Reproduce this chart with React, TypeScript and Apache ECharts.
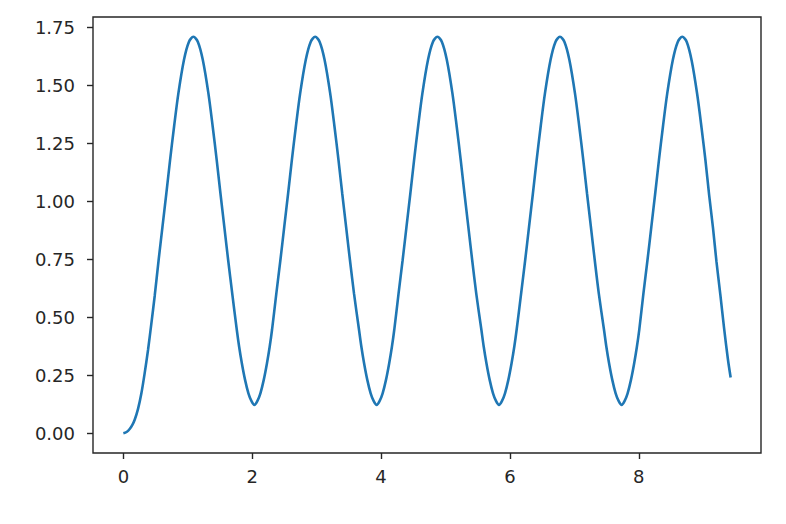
import React, { useEffect, useRef } from "react";
import * as echarts from "echarts";

// x positions
const xs: number[] = [
  0.0, 0.05, 0.098, 0.14, 0.176, 0.228, 0.28, 0.331, 0.383, 0.435, 0.487,
  0.547, 0.607, 0.667, 0.725, 0.787, 0.854, 0.942, 1.017, 1.087,
  1.157, 1.232, 1.32, 1.387, 1.449, 1.507, 1.567, 1.627, 1.69, 1.761, 1.797, 1.839, 1.889, 1.941, 1.989, 2.034,
  2.079, 2.127, 2.179, 2.229, 2.271, 2.307, 2.374, 2.437, 2.497, 2.557, 2.615, 2.677, 2.744, 2.832, 2.907, 2.977,
  3.047, 3.122, 3.21, 3.277, 3.339, 3.397, 3.457, 3.517, 3.58, 3.658, 3.694, 3.736, 3.786, 3.838, 3.886, 3.931,
  3.976, 4.024, 4.076, 4.126, 4.168, 4.204, 4.271, 4.334, 4.394, 4.454, 4.512, 4.574, 4.641, 4.729, 4.804, 4.874,
  4.944, 5.019, 5.107, 5.174, 5.236, 5.294, 5.354, 5.414, 5.477, 5.557, 5.593, 5.635, 5.685, 5.737, 5.785, 5.83,
  5.875, 5.923, 5.975, 6.025, 6.067, 6.103, 6.173, 6.236, 6.296, 6.356, 6.414, 6.476, 6.543, 6.631, 6.706, 6.776,
  6.846, 6.921, 7.009, 7.076, 7.138, 7.196, 7.256, 7.316, 7.379, 7.46, 7.496, 7.538, 7.588, 7.64, 7.688, 7.733,
  7.778, 7.826, 7.878, 7.928, 7.97, 8.006, 8.071, 8.134, 8.194, 8.254, 8.312, 8.374, 8.441, 8.529, 8.604, 8.674,
  8.744, 8.822, 8.907, 8.974, 9.036, 9.09, 9.151, 9.204, 9.265, 9.322, 9.382, 9.425,
];

// y values
const ys: number[] = [
  0.0, 0.005, 0.018, 0.036, 0.058, 0.105, 0.172, 0.259, 0.359, 0.474, 0.593,
  0.746, 0.89, 1.034, 1.178, 1.322, 1.466, 1.612, 1.688, 1.71,
  1.688, 1.612, 1.466, 1.322, 1.178, 1.034, 0.89, 0.746, 0.602, 0.445, 0.373, 0.302, 0.23, 0.172, 0.138, 0.122,
  0.138, 0.172, 0.23, 0.302, 0.373, 0.445, 0.602, 0.746, 0.89, 1.034, 1.178, 1.322, 1.466, 1.612, 1.688, 1.71,
  1.688, 1.612, 1.466, 1.322, 1.178, 1.034, 0.89, 0.746, 0.602, 0.445, 0.373, 0.302, 0.23, 0.172, 0.138, 0.122,
  0.138, 0.172, 0.23, 0.302, 0.373, 0.445, 0.602, 0.746, 0.89, 1.034, 1.178, 1.322, 1.466, 1.612, 1.688, 1.71,
  1.688, 1.612, 1.466, 1.322, 1.178, 1.034, 0.89, 0.746, 0.602, 0.445, 0.373, 0.302, 0.23, 0.172, 0.138, 0.122,
  0.138, 0.172, 0.23, 0.302, 0.373, 0.445, 0.602, 0.746, 0.89, 1.034, 1.178, 1.322, 1.466, 1.612, 1.688, 1.71,
  1.688, 1.612, 1.466, 1.322, 1.178, 1.034, 0.89, 0.746, 0.602, 0.445, 0.373, 0.302, 0.23, 0.172, 0.138, 0.122,
  0.138, 0.172, 0.23, 0.302, 0.373, 0.445, 0.602, 0.746, 0.89, 1.034, 1.178, 1.322, 1.466, 1.612, 1.688, 1.71,
  1.688, 1.605, 1.46, 1.316, 1.172, 1.03, 0.886, 0.742, 0.598, 0.455, 0.32, 0.24,
];

const xTicks: number[] = [0, 2, 4, 6, 8];
const yTicks: number[] = [0, 0.25, 0.5, 0.75, 1.0, 1.25, 1.5, 1.75];

export default function App() {
  const ref = useRef<HTMLDivElement>(null);

  useEffect(() => {
    if (!ref.current) return;
    const chart = echarts.init(ref.current, null, { renderer: "svg" });
    const data = xs.map((x, i) => [x, ys[i]]);
    const labelStyle = {
      color: "#262626",
      fontSize: 18,
      fontFamily: "DejaVu Sans",
    };
    const tickStyle = { color: "#262626", width: 1.4 };
    chart.setOption({
      animation: false,
      backgroundColor: "#ffffff",
      grid: {
        show: true,
        left: 93,
        top: 17,
        width: 668,
        height: 436,
        borderColor: "#262626",
        borderWidth: 1.4,
        backgroundColor: "transparent",
      },
      xAxis: {
        type: "value",
        min: -0.471,
        max: 9.896,
        axisLine: { show: false, onZero: false },
        splitLine: { show: false },
        axisTick: {
          show: true,
          length: 6,
          lineStyle: tickStyle,
          customValues: xTicks,
        },
        axisLabel: {
          ...labelStyle,
          margin: 14,
          customValues: xTicks,
          formatter: (v: number) => String(v),
        },
      },
      yAxis: {
        type: "value",
        min: -0.0855,
        max: 1.7955,
        axisLine: { show: false, onZero: false },
        splitLine: { show: false },
        axisTick: {
          show: true,
          length: 6,
          lineStyle: tickStyle,
          customValues: yTicks,
        },
        axisLabel: {
          ...labelStyle,
          margin: 18,
          customValues: yTicks,
          formatter: (v: number) => v.toFixed(2),
        },
      },
      series: [
        {
          type: "line",
          data,
          showSymbol: false,
          smooth: 0.3,
          lineStyle: { color: "#1f77b4", width: 2.6 },
          itemStyle: { color: "#1f77b4" },
        },
      ],
    });
    return () => chart.dispose();
  }, []);

  return (
    <div
      ref={ref}
      style={{
        position: "fixed",
        left: 0,
        top: 0,
        width: 786,
        height: 524,
        background: "#fff",
      }}
    />
  );
}
